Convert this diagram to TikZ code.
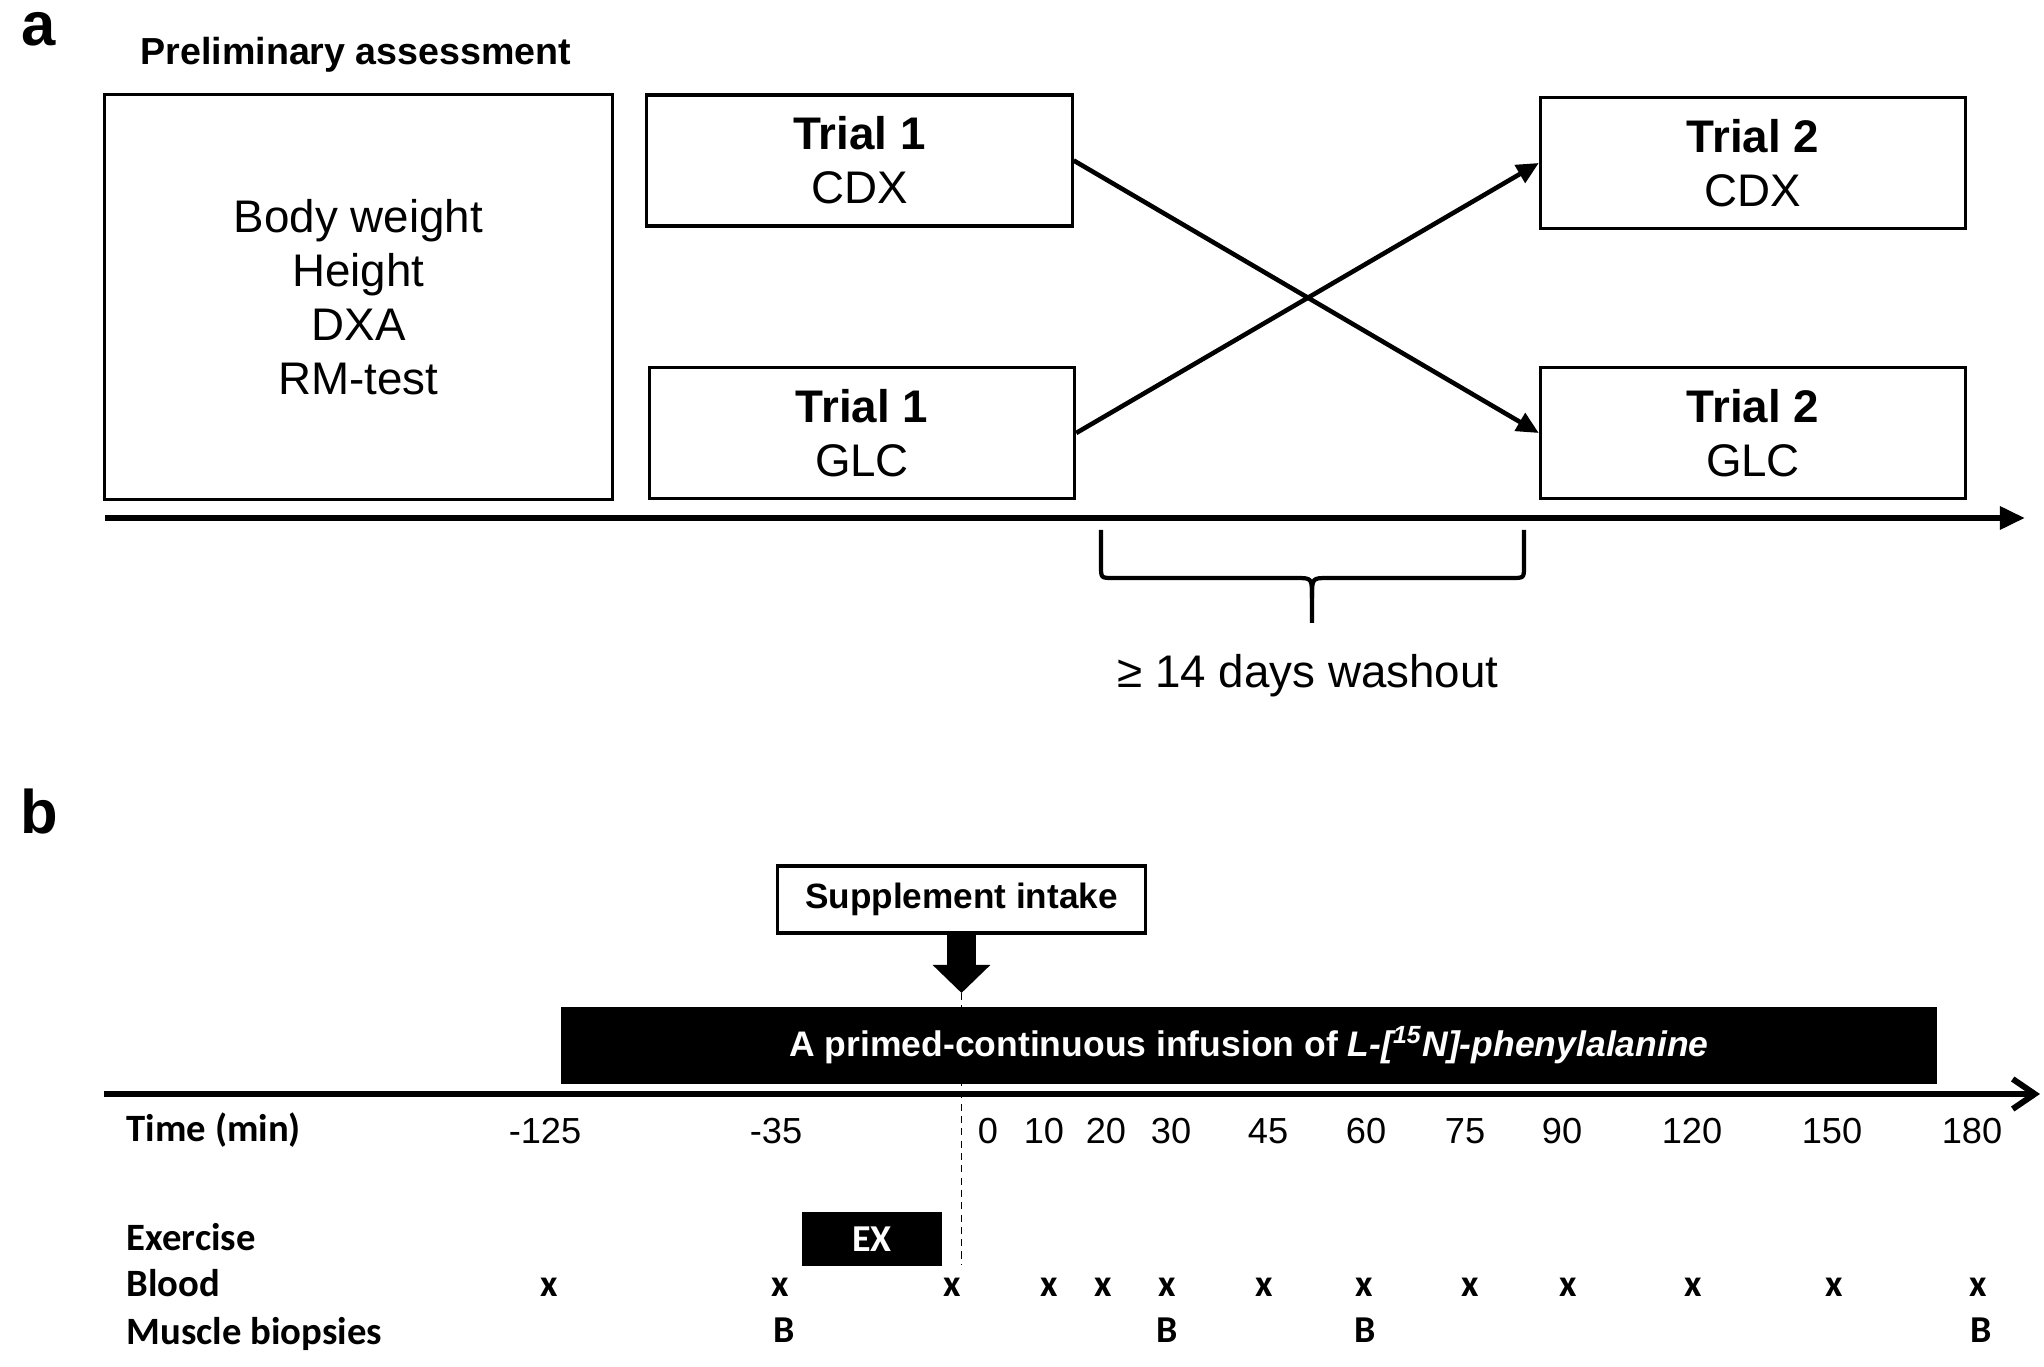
\documentclass[tikz,border=0pt]{standalone}
\usepackage{fontspec}
\setmainfont{Liberation Sans}
\newfontfamily\calfont{Carlito}
\usetikzlibrary{positioning, arrows.meta}

\begin{document}
\begin{tikzpicture}[
    x=0.01cm, y=-0.01cm,
    box/.style={
        draw,
        line width=0.9pt,
        inner sep=0pt,
        align=center,
        font=\fontsize{13}{15.3}\selectfont
    },
    trialbox/.style={box, minimum width=4.25cm, minimum height=1.31cm},
    edge/.style={line width=1.3pt, -{Triangle[length=0.22cm, width=0.2cm]}},
    axis/.style={line width=1.7pt},
    panel/.style={font=\fontsize{17.5}{20}\selectfont\bfseries, anchor=base west, inner sep=0pt},
    rowlabel/.style={font=\calfont\fontsize{11}{13}\selectfont\bfseries, anchor=base west, inner sep=0pt},
    tick/.style={font=\fontsize{10.3}{12}\selectfont, anchor=base, inner sep=0pt},
    sample/.style={font=\calfont\fontsize{10.8}{13}\selectfont\bfseries, anchor=base, inner sep=0pt},
    blackbar/.style={fill=black, text=white, inner sep=0pt}
]
\useasboundingbox (0,0) rectangle (2044,1367);

% panel a: crossover design
\node[panel] (pa) at (21,46) {a};
\node[font=\fontsize{10.7}{13}\selectfont\bfseries, anchor=base] (prelim) at (356,65) {Preliminary assessment};
\node[box, minimum width=5.07cm, minimum height=4.04cm] (prelimbox) at (358.5,297) {Body weight\\Height\\DXA\\RM-test};

\node[trialbox] (t1cdx) at (859.5,160.5) {\textbf{Trial 1}\\CDX};
\node[trialbox] (t1glc) at (862,433) {\textbf{Trial 1}\\GLC};
\node[trialbox] (t2cdx) at (1753,163) {\textbf{Trial 2}\\CDX};
\node[trialbox] (t2glc) at (1753,433) {\textbf{Trial 2}\\GLC};

\draw[edge] (t1cdx.east) -- (t2glc.west);
\draw[edge] (t1glc.east) -- (t2cdx.west);

\coordinate (al) at (105,518);
\coordinate (ar) at (2025,518);
\draw[axis, -{Triangle[length=0.25cm, width=0.22cm]}] (al) -- (ar);

% washout brace
\coordinate (bracetip) at (1312,623);
\draw[line width=1.2pt] (1101,530) -- (1101,566) .. controls (1101,578) .. (1113,578) -- (1296,578) .. controls (1312,578) .. (1312,598) -- (bracetip);
\draw[line width=1.2pt] (1524,530) -- (1524,566) .. controls (1524,578) .. (1512,578) -- (1328,578) .. controls (1312,578) .. (1312,598);
\node[font=\fontsize{13}{15}\selectfont, inner sep=0pt, below=0.31cm of bracetip, xshift=-0.04cm] (washout) {≥ 14 days washout};

% panel b: trial day
\node[panel] (pb) at (20,834) {b};
\node[draw, line width=0.9pt, minimum width=3.67cm, minimum height=0.67cm, inner sep=0pt,
      font=\fontsize{10}{12}\selectfont\bfseries] (supp) at (961.5,899.5) {Supplement intake};
\coordinate (supptip) at (961.5,993);
\coordinate (dashend) at (961.5,1265);
\draw[line width=0.28cm, -{Triangle[length=0.28cm, width=0.56cm]}] (supp.south) -- (supptip);
\draw[line width=0.5pt, dash pattern=on 2pt off 1.5pt] (supptip) -- (dashend);

\node[blackbar, minimum width=13.76cm, minimum height=0.77cm, font=\fontsize{10.1}{12}\selectfont\bfseries]
    (infusion) at (1249,1045.5) {A primed-continuous infusion of \textit{L-[\textsuperscript{15}N]-phenylalanine}};

\coordinate (tl) at (104,1094);
\coordinate (tr) at (2040,1094);
\draw[axis, -{Straight Barb[length=0.22cm, width=0.3cm]}] (tl) -- (tr);

% time points
\node[rowlabel] (time) at (126,1142) {Time (min)};
\node[tick] (tm125) at (545,1143) {-125};
\node[tick] (tm35) at (776,1143) {-35};
\node[tick] (t0) at (988,1143) {0};
\node[tick] (t10) at (1044,1143) {10};
\node[tick] (t20) at (1106,1143) {20};
\node[tick] (t30) at (1171,1143) {30};
\node[tick] (t45) at (1268,1143) {45};
\node[tick] (t60) at (1366,1143) {60};
\node[tick] (t75) at (1465,1143) {75};
\node[tick] (t90) at (1562,1143) {90};
\node[tick] (t120) at (1692,1143) {120};
\node[tick] (t150) at (1832,1143) {150};
\node[tick] (t180) at (1972,1143) {180};

% sampling rows
\node[rowlabel] (exercise) at (126,1251) {Exercise};
\node[rowlabel] (blood) at (126,1297) {Blood};
\node[rowlabel] (biopsy) at (126,1344) {Muscle biopsies};
\node[blackbar, minimum width=1.4cm, minimum height=0.54cm, font=\calfont\fontsize{10.8}{13}\selectfont\bfseries] (ex) at (872,1239) {EX};

\node[sample] (x1) at (549,1296) {x};
\node[sample] (x2) at (780,1296) {x};
\node[sample] (x3) at (952,1296) {x};
\node[sample] (x4) at (1049,1296) {x};
\node[sample] (x5) at (1103,1296) {x};
\node[sample] (x6) at (1167,1296) {x};
\node[sample] (x7) at (1264,1296) {x};
\node[sample] (x8) at (1364,1296) {x};
\node[sample] (x9) at (1470,1296) {x};
\node[sample] (x10) at (1568,1296) {x};
\node[sample] (x11) at (1693,1296) {x};
\node[sample] (x12) at (1834,1296) {x};
\node[sample] (x13) at (1978,1296) {x};

\node[sample] (b1) at (784,1343) {B};
\node[sample] (b2) at (1167,1343) {B};
\node[sample] (b3) at (1365,1343) {B};
\node[sample] (b4) at (1981,1343) {B};

\end{tikzpicture}
\end{document}
